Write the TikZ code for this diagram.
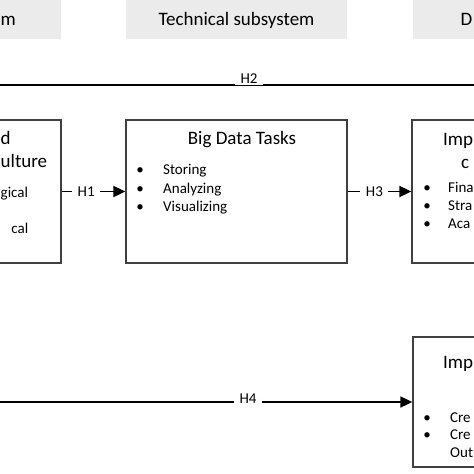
\documentclass[tikz,border=0pt]{standalone}
\usepackage{fontspec}
\setmainfont{Carlito}
\usetikzlibrary{arrows.meta}

\begin{document}
\begin{tikzpicture}[x=1pt,y=-1pt,
        head/.style={fill=black!8,minimum width=221pt,minimum height=44pt,inner sep=0pt},
        taskbox/.style={draw=black!75,line width=1.3pt,minimum width=221pt,minimum height=143pt},
        ttl/.style={inner sep=0pt,font=\fontsize{19}{23}\selectfont},
        txt/.style={anchor=base west,inner sep=0pt,font=\fontsize{15}{18}\selectfont},
        dot/.style={anchor=base,inner sep=0pt,font=\fontsize{15}{18}\selectfont},
        link/.style={line width=1.8pt,-{Triangle[length=12pt,width=11pt]}},
        hlabel/.style={fill=white,inner xsep=5.5pt,inner ysep=1pt,font=\fontsize{15}{18}\selectfont}]
            \useasboundingbox (0,0) rectangle (474,474);
            \clip (0,0) rectangle (474,474);

            % subsystem headers
            \node[head] (hsoc) at (-49.5,17)  {};
            \node[head] (htec) at (236.5,17)  {};
            \node[head] (hdep) at (523.5,17)  {};
            \node[ttl,anchor=base west] (tsoc) at (0.5,25.5)   {m};
            \node[ttl,anchor=base]      (ttec) at (236.5,25.5) {Technical subsystem};
            \node[ttl,anchor=base west] (tdep) at (460.5,25.5) {D};

            % boxes
            \node[taskbox] (culture) at (-49.5,191.5) {};
            \node[taskbox] (tasks)   at (236.5,191.5) {};
            \node[taskbox] (impact)  at (522.5,191.5) {};
            \node[taskbox,minimum height=130pt] (impact2) at (523.5,402) {};

            % culture box
            \node[ttl,anchor=base west] (c1) at (0.5,144) {d};
            \node[ttl,anchor=base west] (c2) at (0.5,167) {ulture};
            \node[txt] (c3) at (0.5,197)  {gical};
            \node[txt,anchor=base east] (c4) at (28.5,233) {cal};

            % big data tasks box
            \node[ttl,anchor=base] (t0) at (242,144) {Big Data Tasks};
            \foreach \y/\w [count=\i] in {174.5/Storing,193/Analyzing,211.5/Visualizing} {
                \node[dot] (td\i) at (140,\y) {\textbullet};
                \node[txt] (t\i)  at (163,\y) {\w};
            }

            % impact box
            \node[ttl,anchor=base west] (i0) at (443,145) {Imp};
            \node[ttl,anchor=base west] (ic) at (461,168) {c};
            \foreach \y/\w [count=\i] in {192/Fina,210/Stra,228/Aca} {
                \node[dot] (id\i) at (427,\y) {\textbullet};
                \node[txt] (i\i)  at (448,\y) {\w};
            }

            % second impact box
            \node[ttl,anchor=base west] (j0) at (443,368) {Imp};
            \node[dot] (jd1) at (427,422) {\textbullet};
            \node[dot] (jd2) at (427,439) {\textbullet};
            \node[txt] (j1) at (450,422)   {Cre};
            \node[txt] (j2) at (450,439)   {Cre};
            \node[txt] (j3) at (450,457.5) {Out};

            % hypotheses
            \coordinate (h2s) at (-10,85);
            \coordinate (h2e) at (508,85);
            \coordinate (h4s) at (-10,402);
            \draw[line width=1.8pt] (h2s) -- node[hlabel,yshift=6pt] {H2} (h2e);
            \draw[link] (culture.east) -- node[hlabel,pos=0.385] {H1} (tasks.west);
            \draw[link] (tasks.east) -- node[hlabel,pos=0.42] {H3} (impact.west);
            \draw[link] (h4s) -- node[hlabel,pos=0.611,yshift=3pt] {H4} (impact2.west);
        \end{tikzpicture}
\end{document}
